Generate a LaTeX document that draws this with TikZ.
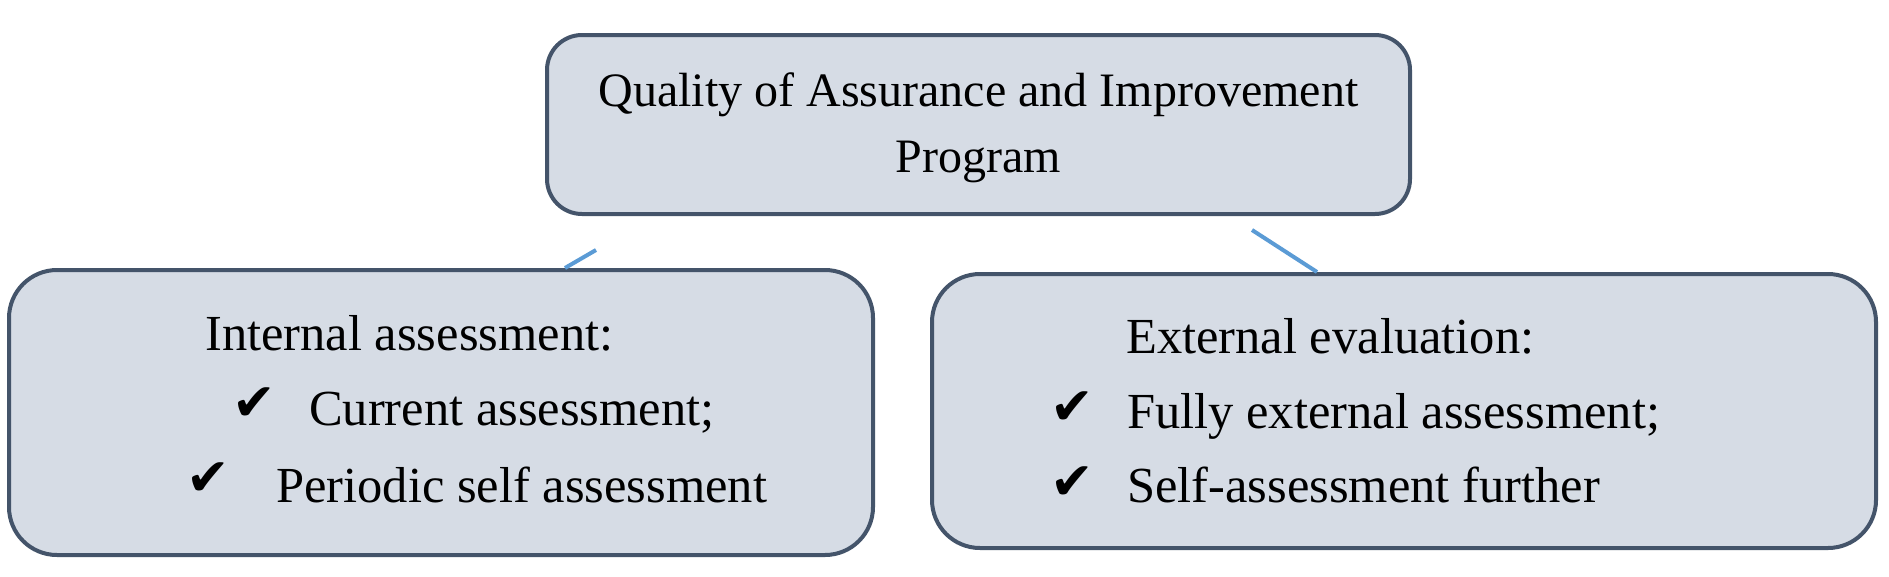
\documentclass[tikz,border=0pt]{standalone}
\usepackage{fontspec}
\setmainfont{Liberation Serif}
\newfontfamily\checkfont{DejaVu Sans}
\definecolor{boxfill}{HTML}{D6DCE5}
\definecolor{boxline}{HTML}{44546A}
\definecolor{linkblue}{HTML}{5B9BD5}
\tikzset{
  box/.style={draw=boxline, fill=boxfill, line width=4pt, rectangle, inner sep=0pt},
  link/.style={draw=linkblue, line width=4pt},
  toptext/.style={inner sep=0pt, anchor=base, font=\fontsize{48}{58}\selectfont},
  itemtext/.style={inner sep=0pt, anchor=base west, font=\fontsize{50.5}{60}\selectfont},
  checktext/.style={inner sep=0pt, anchor=base west, font=\checkfont\fontsize{52}{60}\selectfont}
}
\begin{document}
\begin{tikzpicture}[x=1pt,y=-1pt]
\useasboundingbox (0,0) rectangle (1889,576);
% boxes
\node[box, rounded corners=35pt, minimum width=863pt, minimum height=179pt] (top) at (978.5,124.5) {};
\node[box, rounded corners=48pt, minimum width=864pt, minimum height=285pt] (left) at (441,412.5) {};
\node[box, rounded corners=48pt, minimum width=944pt, minimum height=274pt] (right) at (1404,411) {};
% connectors
\coordinate (lstart) at (596,250);
\coordinate (lend) at (565,268);
\coordinate (rstart) at (1252,230);
\coordinate (rend) at (1317,272);
\draw[link] (lstart) -- (lend);
\draw[link] (rstart) -- (rend);
% top text
\node[toptext] (t1) at (978.5,106) {Quality of Assurance and Improvement};
\node[toptext] (t2) at (978.5,172) {Program};
% left text
\node[itemtext] (l0) at (205,350) {Internal assessment:};
\node[checktext] (lc1) at (232,420) {✔};
\node[itemtext] (l1) at (309,425) {Current assessment;};
\node[checktext] (lc2) at (186,495) {✔};
\node[itemtext] (l2) at (276,502) {Periodic self assessment};
% right text
\node[itemtext] (r0) at (1126,353) {External evaluation:};
\node[checktext] (rc1) at (1050,424) {✔};
\node[itemtext] (r1) at (1127,428) {Fully external assessment;};
\node[checktext] (rc2) at (1050,499) {✔};
\node[itemtext] (r2) at (1127,502) {Self-assessment further};
\end{tikzpicture}
\end{document}
